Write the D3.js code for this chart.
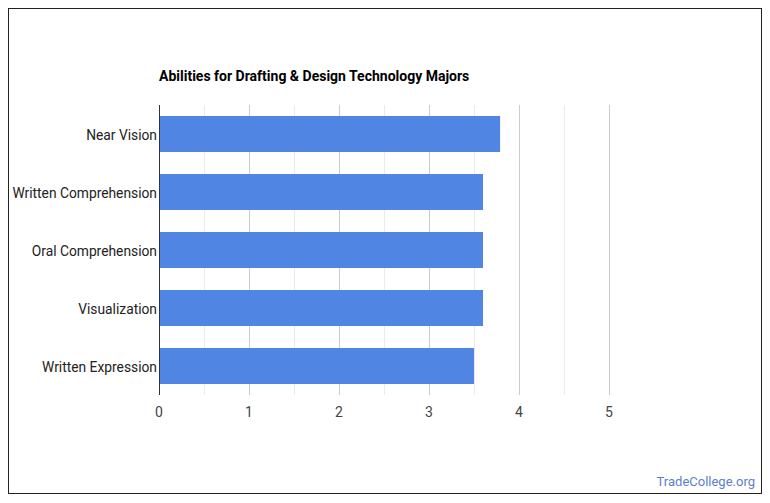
<!DOCTYPE html>
<html>
<head>
<meta charset="utf-8">
<script src="https://cdn.jsdelivr.net/npm/d3@7"></script>
<style>
  body { margin: 0; background: #fff; }
  svg text { font-family: Roboto, "Noto Sans", sans-serif; }
</style>
</head>
<body>
<div id="chart"></div>
<script>
const categories = ['Near Vision', 'Written Comprehension', 'Oral Comprehension', 'Visualization', 'Written Expression'];
const values = [3.79, 3.6, 3.6, 3.6, 3.5];
const xTicks = [0, 1, 2, 3, 4, 5];
const minorTicks = [0.5, 1.5, 2.5, 3.5, 4.5];

const width = 770, height = 503;
const svg = d3.select('#chart').append('svg')
  .attr('width', width)
  .attr('height', height);

// outer frame
svg.append('rect')
  .attr('x', 8.5).attr('y', 8.5)
  .attr('width', 753).attr('height', 485)
  .attr('fill', '#fff')
  .attr('stroke', '#222')
  .attr('stroke-width', 1);

const plotLeft = 159, plotRight = 609, plotTop = 105, plotBottom = 395;

const x = d3.scaleLinear().domain([0, 5]).range([plotLeft, plotRight]);
const y = d3.scaleBand().domain(categories).range([plotTop, plotBottom]).paddingInner(0.38).paddingOuter(0.19);

// title
svg.append('text')
  .attr('x', plotLeft).attr('y', 81)
  .attr('font-size', 14).attr('font-weight', 'bold')
  .attr('fill', '#000')
  .text('Abilities for Drafting & Design Technology Majors');

// gridlines
svg.selectAll('.minor').data(minorTicks).join('line')
  .attr('x1', d => Math.round(x(d)) + 0.5).attr('x2', d => Math.round(x(d)) + 0.5)
  .attr('y1', plotTop).attr('y2', plotBottom)
  .attr('stroke', '#ebebeb');
svg.selectAll('.major').data(xTicks.slice(1)).join('line')
  .attr('x1', d => Math.round(x(d)) + 0.5).attr('x2', d => Math.round(x(d)) + 0.5)
  .attr('y1', plotTop).attr('y2', plotBottom)
  .attr('stroke', '#cccccc');

// bars
svg.selectAll('.bar').data(categories).join('rect')
  .attr('x', x(0))
  .attr('y', d => y(d))
  .attr('width', (d, i) => x(values[i]) - x(0))
  .attr('height', y.bandwidth())
  .attr('fill', '#5085e3');

// baseline
svg.append('line')
  .attr('x1', plotLeft + 0.5).attr('x2', plotLeft + 0.5)
  .attr('y1', plotTop).attr('y2', plotBottom)
  .attr('stroke', '#333');

// category labels
svg.selectAll('.cat').data(categories).join('text')
  .attr('x', plotLeft - 2)
  .attr('y', d => y(d) + y.bandwidth() / 2 + 6)
  .attr('text-anchor', 'end')
  .attr('font-size', 13.8)
  .attr('fill', '#222')
  .text(d => d);

// x tick labels
svg.selectAll('.tick').data(xTicks).join('text')
  .attr('x', d => x(d))
  .attr('y', 417)
  .attr('text-anchor', 'middle')
  .attr('font-size', 14)
  .attr('fill', '#444')
  .text(d => d);

// watermark
svg.append('text')
  .attr('x', 755).attr('y', 486)
  .attr('text-anchor', 'end')
  .attr('font-size', 13)
  .attr('fill', '#5b7fcb')
  .text('TradeCollege.org');
</script>
</body>
</html>
